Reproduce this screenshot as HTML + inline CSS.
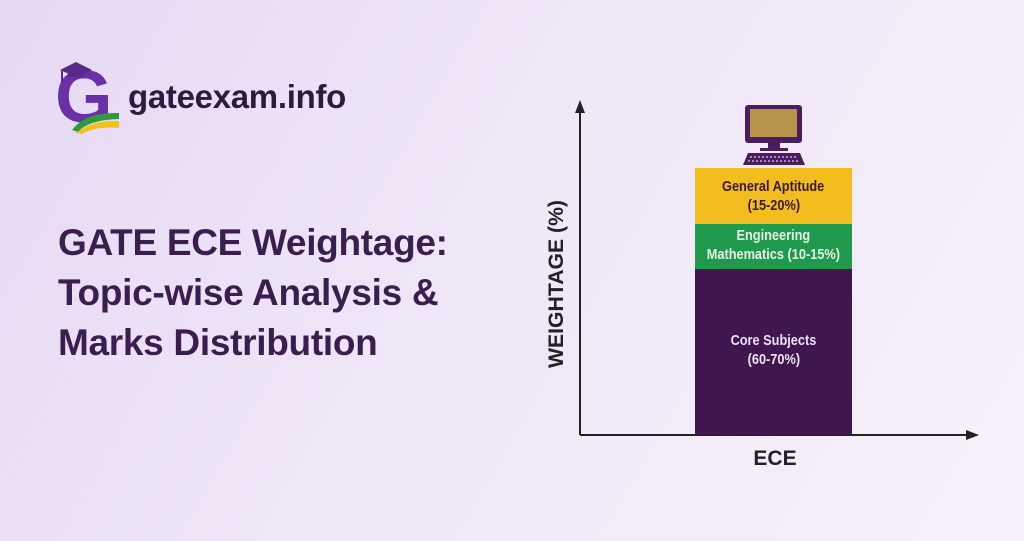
<!DOCTYPE html>
<html><head><meta charset="utf-8"><style>
body{margin:0;width:1024px;height:541px;overflow:hidden;font-family:"Liberation Sans",sans-serif;
background:linear-gradient(120deg,#e6d8f3 0%,#efe6f7 45%,#f6f1fa 100%);position:relative}
.abs{position:absolute}
.title{left:58px;top:218px;font-size:37px;font-weight:bold;color:#3a1f4e;line-height:50px;letter-spacing:-0.3px}
.logo{left:128px;top:78px;font-size:33px;font-weight:bold;color:#2d1a3c;letter-spacing:-0.3px}
.seg{position:absolute;left:695px;width:157px;text-align:center;font-weight:bold;font-size:15px;line-height:19px}
.seg span{display:inline-block;transform:scaleX(0.85);white-space:nowrap}
</style></head><body>
<svg class="abs" style="left:0;top:0" width="1024" height="541">
  <text x="55" y="122" font-family="Liberation Sans" font-weight="bold" font-size="74" fill="#6b2fa8">G</text>
  <polygon points="60,70 76,62 92,70 76,77" fill="#5a2a8a"/>
  <rect x="68" y="71" width="16" height="6" fill="#5a2a8a"/>
  <line x1="62" y1="71" x2="62" y2="82" stroke="#5a2a8a" stroke-width="2"/>
  <path d="M72,130 Q85,112 119,113 L119,119 Q88,120 78,132Z" fill="#2e9a3e"/>
  <path d="M76,133 Q92,120 119,121 L119,128 Q95,126 82,134Z" fill="#f1c21b"/>
  <line x1="580" y1="435" x2="580" y2="110" stroke="#222" stroke-width="2"/>
  <polygon points="580,100 575,113 585,113" fill="#222"/>
  <line x1="580" y1="435" x2="968" y2="435" stroke="#222" stroke-width="2"/>
  <polygon points="979,435 966,430 966,440" fill="#222"/>
  <text x="563" y="284" transform="rotate(-90 563 284)" text-anchor="middle" font-family="Liberation Sans" font-weight="bold" font-size="21" textLength="168" lengthAdjust="spacingAndGlyphs" fill="#222">WEIGHTAGE (%)</text>
  <text x="775" y="465" text-anchor="middle" font-family="Liberation Sans" font-weight="bold" font-size="21" fill="#222">ECE</text>
  <rect x="695" y="168" width="157" height="56" fill="#f2bd1d"/>
  <rect x="695" y="224" width="157" height="45" fill="#1f9a4c"/>
  <rect x="695" y="269" width="157" height="166" fill="#3f1650"/>
  <rect x="745" y="105" width="57" height="38" rx="3" fill="#4a1e5c"/>
  <rect x="750" y="109" width="47" height="28" fill="#b8944a"/>
  <rect x="768" y="143" width="12" height="6" fill="#4a1e5c"/>
  <rect x="760" y="148" width="28" height="3" fill="#4a1e5c"/>
  <polygon points="748,153 800,153 805,165 743,165" fill="#4a1e5c"/>
  <line x1="750" y1="157" x2="798" y2="157" stroke="#c9a9d9" stroke-width="1.5" stroke-dasharray="2,2"/>
  <line x1="748" y1="161" x2="800" y2="161" stroke="#c9a9d9" stroke-width="1.5" stroke-dasharray="2,2"/>
</svg>
<div class="abs logo">gateexam.info</div>
<div class="abs title">GATE ECE Weightage:<br>Topic-wise Analysis &amp;<br>Marks Distribution</div>
<div class="seg" style="top:177px;color:#3a1a2a"><span>General Aptitude</span><br><span>(15-20%)</span></div>
<div class="seg" style="top:226px;color:#e6f5e8"><span>Engineering</span><br><span>Mathematics (10-15%)</span></div>
<div class="seg" style="top:331px;color:#eee2f2"><span>Core Subjects</span><br><span>(60-70%)</span></div>
</body></html>
